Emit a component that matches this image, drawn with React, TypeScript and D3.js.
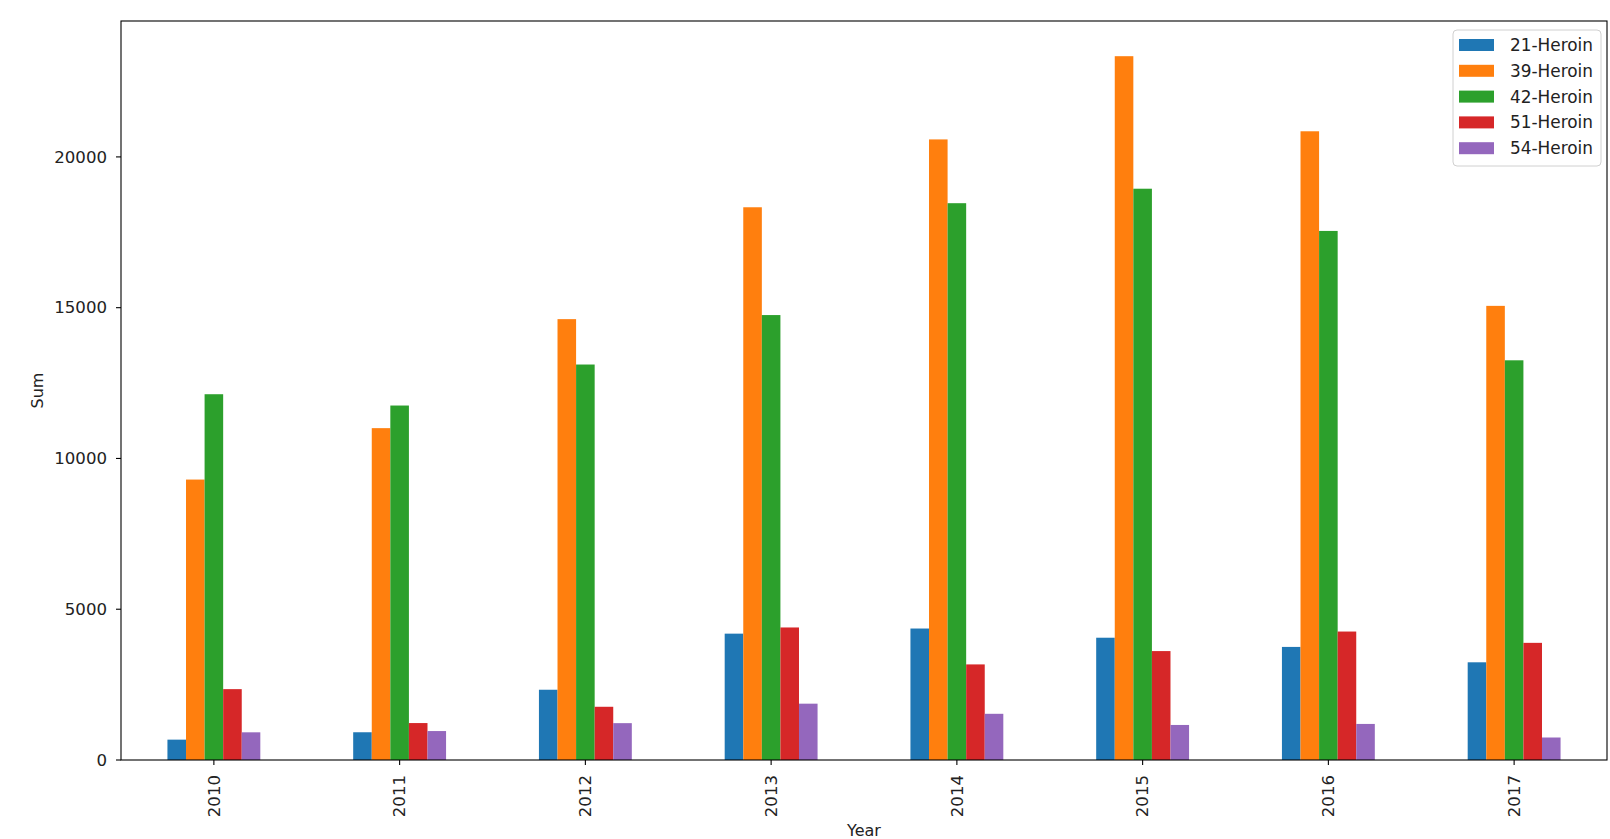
import React from "react";
import * as d3 from "d3";

const years = ["2010", "2011", "2012", "2013", "2014", "2015", "2016", "2017"];
const seriesNames = ["21-Heroin", "39-Heroin", "42-Heroin", "51-Heroin", "54-Heroin"];
const colors = ["#1f77b4", "#ff7f0e", "#2ca02c", "#d62728", "#9467bd"];

const s21 = [675, 920, 2330, 4190, 4360, 4055, 3750, 3240];
const s39 = [9300, 11005, 14620, 18330, 20580, 23340, 20850, 15060];
const s42 = [12130, 11755, 13115, 14755, 18465, 18945, 17545, 13255];
const s51 = [2350, 1225, 1765, 4395, 3170, 3612, 4260, 3885];
const s54 = [918, 960, 1222, 1868, 1532, 1162, 1196, 746];
const series = [s21, s39, s42, s51, s54];

const yTicks = [0, 5000, 10000, 15000, 20000];

const W = 1610;
const H = 839;
const left = 121;
const right = 1607;
const top = 21;
const bottom = 760;
const FONT = "DejaVu Sans, sans-serif";

export default function App() {
  const maxV = d3.max(series.flat()) as number;
  const y = d3.scaleLinear().domain([0, maxV * 1.05]).range([bottom, top]);
  const x = d3.scaleLinear().domain([-0.5, years.length - 0.5]).range([left, right]);
  const bw = 0.1;
  const n = series.length;

  return (
    <svg width={W} height={H} style={{ position: "absolute", left: 0, top: 0, background: "#fff" }}>
      <rect x={0} y={0} width={W} height={H} fill="#fff" />
      {series.map((vals, j) =>
        vals.map((v, i) => {
          const cx = i + (j - (n - 1) / 2) * bw;
          const x0 = x(cx - bw / 2);
          const x1 = x(cx + bw / 2);
          return (
            <rect
              key={`${j}-${i}`}
              x={x0}
              y={y(v)}
              width={x1 - x0}
              height={y(0) - y(v)}
              fill={colors[j]}
            />
          );
        })
      )}
      {/* frame */}
      <rect x={left} y={top} width={right - left} height={bottom - top} fill="none" stroke="#000" strokeWidth={1.1} />
      {/* y ticks */}
      {yTicks.map((t) => (
        <g key={t}>
          <line x1={left - 5} x2={left} y1={y(t)} y2={y(t)} stroke="#000" strokeWidth={1.1} />
          <text x={left - 14} y={y(t)} dy="0.35em" textAnchor="end" fontFamily={FONT} fontSize={16.6} fill="#222">
            {t}
          </text>
        </g>
      ))}
      {/* x ticks */}
      {years.map((yr, i) => (
        <g key={yr}>
          <line x1={x(i)} x2={x(i)} y1={bottom} y2={bottom + 5} stroke="#000" strokeWidth={1.1} />
          <text
            transform={`translate(${x(i)},${bottom + 15}) rotate(-90)`}
            dy="0.35em"
            textAnchor="end"
            fontFamily={FONT}
            fontSize={16.6}
            fill="#222"
          >
            {yr}
          </text>
        </g>
      ))}
      {/* axis labels */}
      <text
        transform={`translate(37.5,${(top + bottom) / 2}) rotate(-90)`}
        dy="0.35em"
        textAnchor="middle"
        fontFamily={FONT}
        fontSize={16}
        fill="#222"
      >
        Sum
      </text>
      <text x={(left + right) / 2} y={836} textAnchor="middle" fontFamily={FONT} fontSize={16} fill="#222">
        Year
      </text>
      {/* legend */}
      <rect x={1453} y={30} width={148} height={136} rx={4} fill="#fff" fillOpacity={0.8} stroke="#d0d0d0" strokeWidth={1} />
      {seriesNames.map((name, k) => {
        const cy = 45 + k * 25.8;
        return (
          <g key={name}>
            <rect x={1459} y={cy - 6} width={35} height={12} fill={colors[k]} />
            <text x={1510} y={cy} dy="0.35em" fontFamily={FONT} fontSize={16.9} fill="#222">
              {name}
            </text>
          </g>
        );
      })}
    </svg>
  );
}
